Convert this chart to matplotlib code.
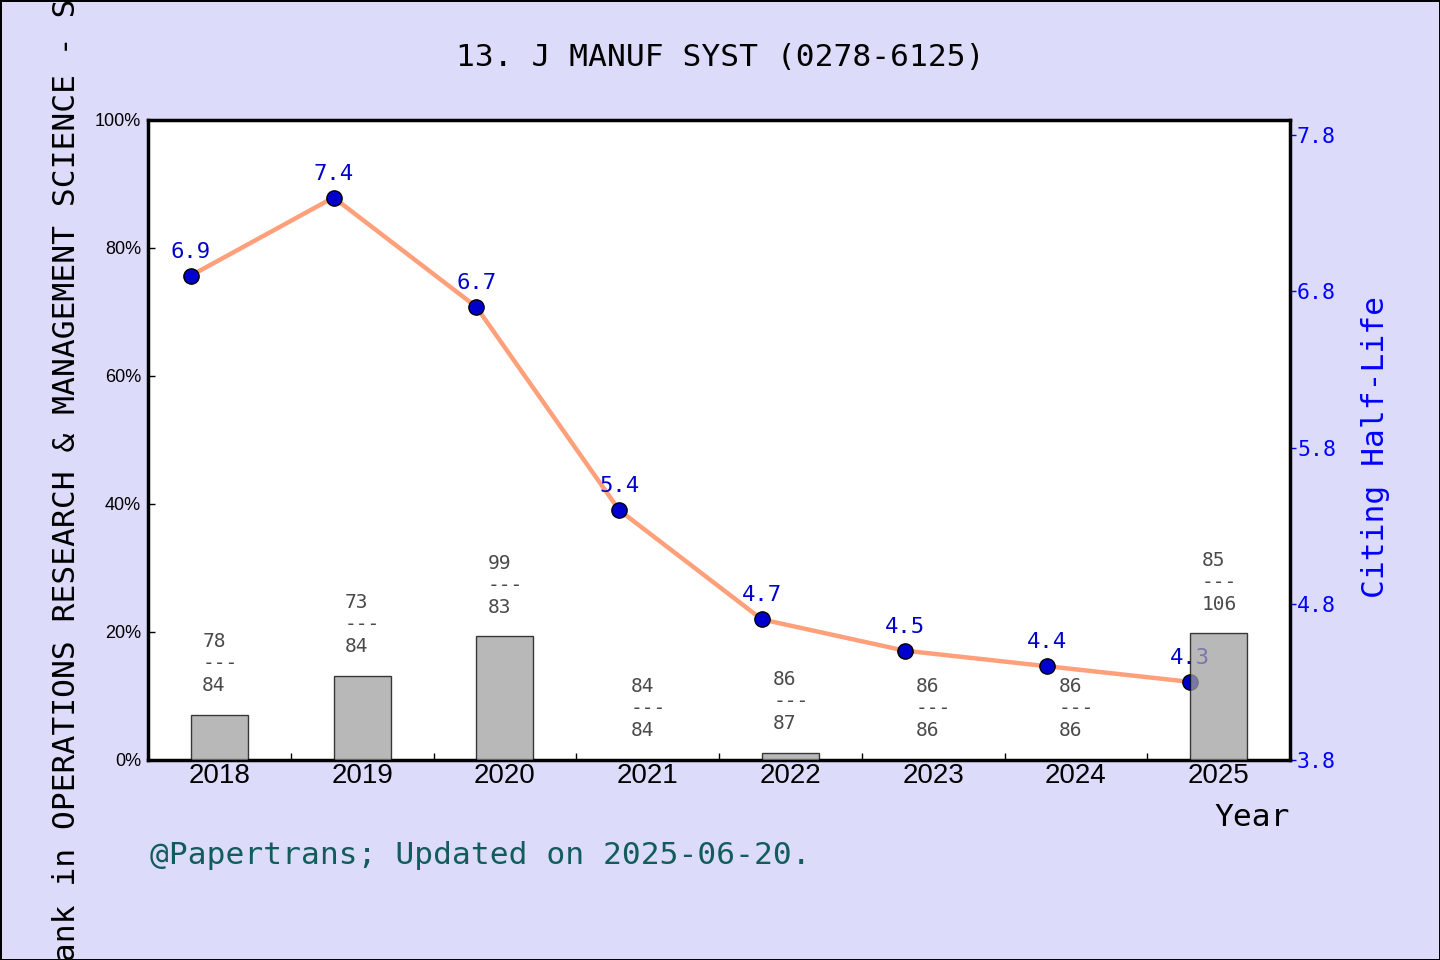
import numpy as np
import matplotlib
matplotlib.use("Agg")
from matplotlib import pyplot as plt
from matplotlib.ticker import FixedLocator, PercentFormatter

# data
years = ["2018", "2019", "2020", "2021", "2022", "2023", "2024", "2025"]
rank_pct = [7.1, 13.1, 19.3, 0.0, 1.1, 0.0, 0.0, 19.8]
rank_top = ["78", "73", "99", "84", "86", "86", "86", "85"]
rank_bottom = ["84", "84", "83", "84", "87", "86", "86", "106"]
half_life = [6.9, 7.4, 6.7, 5.4, 4.7, 4.5, 4.4, 4.3]

mono = "DejaVu Sans Mono"
bg = "#dcdbfa"

fig = plt.figure(figsize=(14.4, 9.6), dpi=100, facecolor=bg)
fig.patch.set_edgecolor("black")
fig.patch.set_linewidth(2)

ax = fig.add_axes([148 / 1440, 1 - 760 / 960, 1142 / 1440, 640 / 960])
ax2 = ax.twinx()
ax.set_zorder(ax2.get_zorder() + 1)
ax.patch.set_visible(False)
ax2.patch.set_visible(True)
ax2.patch.set_facecolor("white")

x = np.arange(len(years))

# citing half-life line (right axis)
ax2.plot(x - 0.2, half_life, color="#ffa07a", lw=3.2, zorder=2)
ax2.plot(x - 0.2, half_life, "o", ms=11, mfc="#0000cd", mec="black", mew=1, zorder=3)
for xi, v in zip(x - 0.2, half_life):
    ax2.annotate(f"{v}", (xi, v), xytext=(0, 10), textcoords="offset points",
                 ha="center", va="bottom", color="#0000cd", fontsize=16, family=mono)
ax2.set_ylim(3.8, 7.896)
ax2.yaxis.set_major_locator(FixedLocator([3.8, 4.8, 5.8, 6.8, 7.8]))
ax2.set_yticklabels(["3.8", "4.8", "5.8", "6.8", "7.8"], family=mono, fontsize=15.5, color="blue")
ax2.tick_params(axis="y", colors="blue", length=4, width=1, pad=1)
for s in ax2.spines.values():
    s.set_visible(False)

# rank bars (left axis)
ax.bar(x, rank_pct, width=0.4, color="#a0a0a0", alpha=0.75, edgecolor="black", lw=1, zorder=3)
for xi, h, t, b in zip(x, rank_pct, rank_top, rank_bottom):
    ax.text(xi - 0.12, h + 8, f"{t}\n---\n{b}", ha="left", va="center",
            multialignment="left", fontsize=14, color="#4a4a4a",
            family=mono, linespacing=1.2, zorder=4)
ax.set_ylim(0, 100)
ax.set_xlim(-0.5, len(years) - 0.5)
ax.yaxis.set_major_locator(FixedLocator([0, 20, 40, 60, 80, 100]))
ax.yaxis.set_major_formatter(PercentFormatter(decimals=0))
ax.tick_params(axis="y", direction="in", length=5, width=1, labelsize=13, pad=5)
for lab in ax.get_yticklabels():
    lab.set_family("Liberation Sans")
ax.set_xticks(x)
ax.set_xticklabels(years, family="Liberation Sans", fontsize=20)
ax.tick_params(axis="x", length=0, pad=2)
ax.set_xticks(x[:-1] + 0.5, minor=True)
ax.tick_params(axis="x", which="minor", direction="in", length=5, width=1)
for s in ax.spines.values():
    s.set_linewidth(2.5)

# texts
fig.text(720 / 1440, 1 - 57 / 960, "13. J MANUF SYST (0278-6125)", ha="center", va="center",
         family=mono, fontsize=22.5)
fig.text(67 / 1440, 1 - 461 / 960, "Rank in OPERATIONS RESEARCH & MANAGEMENT SCIENCE - SCIE",
         rotation=90, ha="center", va="center", family=mono, fontsize=22.5)
fig.text(1375 / 1440, 1 - 447 / 960, "Citing Half-Life", rotation=90, ha="center", va="center",
         family=mono, fontsize=22.5, color="blue")
fig.text(1290 / 1440, 1 - 817 / 960, "Year", ha="right", va="center", family=mono, fontsize=22.5)
fig.text(150 / 1440, 1 - 855 / 960, "@Papertrans; Updated on 2025-06-20.", ha="left", va="center",
         family=mono, fontsize=22.5, color="#125c5c")

plt.savefig("out.png", dpi=100, facecolor=fig.get_facecolor(), edgecolor="black")
